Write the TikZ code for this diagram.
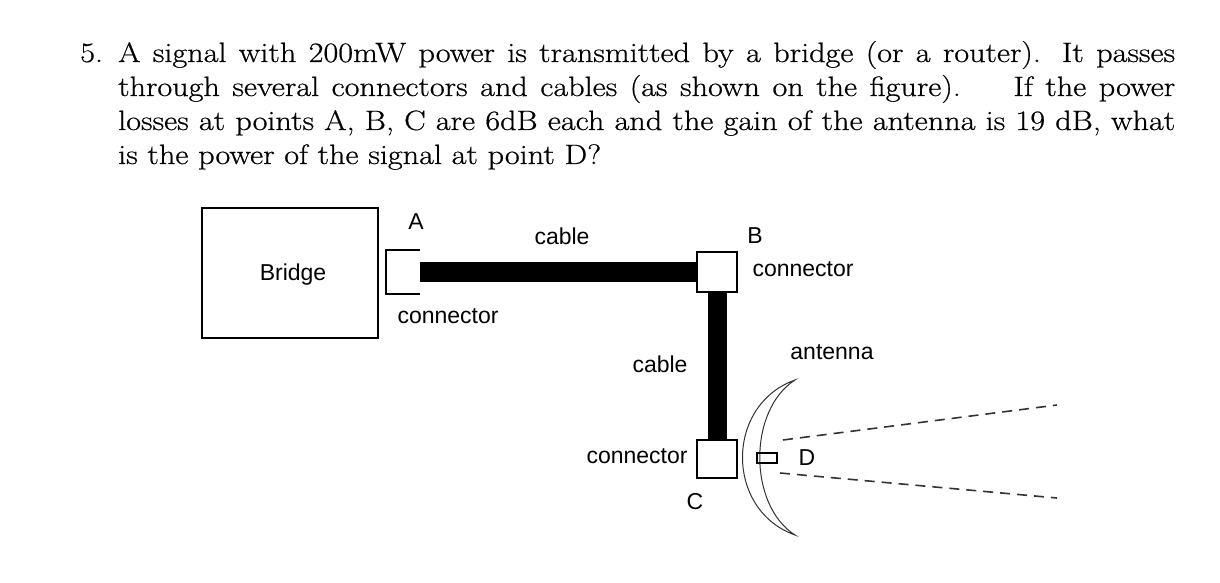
\documentclass[tikz,border=0pt]{standalone}
\usepackage{fontspec}
\setmainfont{Latin Modern Roman}[FakeStretch=1.15,FakeBold=0.6]
\newfontfamily\arialf{Liberation Sans}
\begin{document}
\begin{tikzpicture}[x=1pt,y=-1pt,
 lab/.style={font=\arialf\fontsize{23}{25}\selectfont,inner sep=0pt},
 qt/.style={font=\fontsize{28}{34}\selectfont,inner sep=0pt,anchor=base west},
 box/.style={draw,line width=1.6pt,fill=white},
 cab/.style={fill=black}]
\useasboundingbox (0,0) rectangle (1220,583);
\node[qt] (q0) at (80,62) {5.};
\node[qt] (q1) at (118,62) {\makebox[1057pt][s]{A signal with 200mW power is transmitted by a bridge (or a router). It passes}};
\node[qt] (q2) at (118,96) {\makebox[1057pt][s]{through several connectors and cables (as shown on the figure). \hspace{10pt} If the power}};
\node[qt] (q3) at (118,130) {\makebox[1057pt][s]{losses at points A, B, C are 6dB each and the gain of the antenna is 19 dB, what}};
\node[qt] (q4) at (118,164) {is the power of the signal at point D?};
\draw[box] (202,208) rectangle (378,338);
\node[lab] (br) at (293,275) {Bridge};
\fill[cab] (420,262) rectangle (697,282);
\fill[cab] (708,292) rectangle (727,440);
\draw[line width=1.6pt] (420,250) -- (386,250) -- (386,294) -- (420,294);
\draw[box] (697,252) rectangle (737,292);
\draw[box] (697,440) rectangle (737,478);
\draw[line width=1pt,gray!40!black,fill=white] (795,380) .. controls (725,405) and (725,510) .. (795,535)
  .. controls (748,505) and (748,410) .. cycle;
\draw[line width=1.2pt] (757,453) rectangle (777,463);
\draw[line width=1.6pt,dash pattern=on 10pt off 7pt,gray!40!black] (783,440) -- (1057,405);
\draw[line width=1.6pt,dash pattern=on 10pt off 7pt,gray!40!black] (780,473) -- (1057,498);
\node[lab] (A) at (416,222) {A};
\node[lab] (B) at (755,236) {B};
\node[lab] (C) at (695,502) {C};
\node[lab] (D) at (807,458) {D};
\node[lab] at (562,236) {cable};
\node[lab] at (803,269) {connector};
\node[lab] at (448,316) {connector};
\node[lab] at (660,364) {cable};
\node[lab] at (832,352) {antenna};
\node[lab] at (637,456) {connector};
\end{tikzpicture}
\end{document}
